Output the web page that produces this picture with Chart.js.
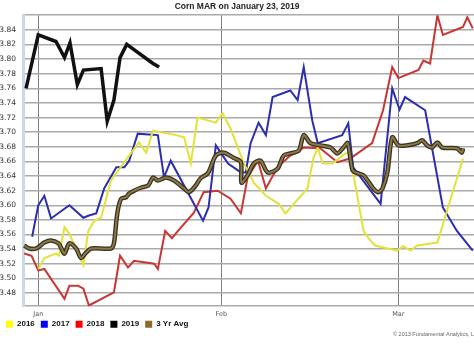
<!DOCTYPE html>
<html>
<head>
<meta charset="utf-8">
<script src="https://cdn.jsdelivr.net/npm/chart.js@4.4.1/dist/chart.umd.min.js"></script>
<style>
  body { margin: 0; background: #fff; }
  canvas { display: block; }
</style>
</head>
<body>
<canvas id="chart1" width="474" height="351"></canvas>
<script>
// x = days from Jan 1 (chart's own spacing), y = price
var monthTicks = [0, 30, 59];
var monthLabels = ["Jan", "Feb", "Mar"];
var priceTicks = [3.48, 3.50, 3.52, 3.54, 3.56, 3.58, 3.60, 3.62, 3.64, 3.66, 3.68, 3.70, 3.72, 3.74, 3.76, 3.78, 3.80, 3.82, 3.84, 3.86];
var seriesNames = ["2016", "2017", "2018", "2019", "3 Yr Avg"];
var legendColors = ["#ffff00", "#0000ff", "#ff0000", "#000000", "#8b6b2b"];

var x2016 = [0, 1.0, 2.9, 3.4, 4.3, 5.1, 7.4, 8.2, 9.2, 10.3, 11.9, 14.9, 16.5, 17.7, 18.8, 20.1, 22.6, 23.9, 25.0, 26.1, 29.1, 30.2, 31.5, 33.7, 35.3, 37.3, 39.4, 40.5, 44.1, 45.1, 45.8, 46.6, 48.2, 50.3, 51.1, 51.6, 53.3, 54.1, 55.2, 58.8, 59.8, 61.0, 62.1, 65.4, 67.5, 69.6];
var y2016 = [3.513, 3.528, 3.534, 3.531, 3.570, 3.561, 3.518, 3.565, 3.579, 3.583, 3.634, 3.668, 3.686, 3.672, 3.702, 3.700, 3.696, 3.693, 3.657, 3.720, 3.713, 3.726, 3.705, 3.657, 3.631, 3.613, 3.602, 3.589, 3.623, 3.665, 3.679, 3.657, 3.657, 3.671, 3.672, 3.644, 3.565, 3.555, 3.545, 3.538, 3.544, 3.538, 3.545, 3.549, 3.607, 3.664];

var x2017 = [-1.0, -0.7, 0, 1.0, 2.1, 5.1, 7.4, 8.3, 9.5, 10.8, 12.8, 14.1, 14.9, 16.3, 18.1, 19.6, 20.6, 21.7, 27.0, 27.9, 29.1, 31.1, 33.2, 34.0, 34.8, 36.1, 37.3, 38.4, 41.3, 42.5, 43.5, 44.9, 45.8, 49.8, 50.8, 51.6, 56.1, 58.0, 59.2, 60.1, 63.4, 66.3, 68.6, 71.2];
var y2017 = [3.557, 3.570, 3.600, 3.613, 3.582, 3.600, 3.583, 3.586, 3.589, 3.623, 3.652, 3.652, 3.661, 3.698, 3.697, 3.696, 3.638, 3.661, 3.579, 3.597, 3.682, 3.657, 3.645, 3.645, 3.685, 3.713, 3.696, 3.748, 3.757, 3.744, 3.789, 3.716, 3.685, 3.696, 3.712, 3.652, 3.602, 3.760, 3.731, 3.748, 3.730, 3.597, 3.565, 3.538];

var x2018 = [-2.3, -1.1, 0, 1.0, 4.3, 5.1, 6.5, 7.4, 8.3, 12.4, 13.4, 14.7, 15.7, 19.0, 19.6, 20.8, 21.9, 22.9, 25.5, 27.1, 29.4, 31.5, 33.2, 34.3, 36.0, 37.3, 39.2, 41.3, 43.5, 46.2, 49.0, 51.1, 54.7, 56.5, 58.0, 59.0, 62.3, 63.1, 64.2, 65.4, 66.3, 69.6, 70.3, 71.2];
var y2018 = [3.534, 3.531, 3.511, 3.513, 3.472, 3.490, 3.490, 3.486, 3.463, 3.481, 3.531, 3.515, 3.524, 3.520, 3.513, 3.565, 3.555, 3.565, 3.590, 3.618, 3.620, 3.609, 3.589, 3.638, 3.661, 3.623, 3.652, 3.668, 3.679, 3.678, 3.659, 3.664, 3.685, 3.730, 3.789, 3.774, 3.785, 3.798, 3.794, 3.860, 3.833, 3.844, 3.857, 3.842];

var x2019 = [-2.0, 0, 2.9, 4.3, 5.2, 6.4, 7.4, 10.3, 11.3, 12.4, 13.4, 14.5, 18.8, 19.8];
var y2019 = [3.760, 3.833, 3.824, 3.802, 3.822, 3.765, 3.785, 3.787, 3.715, 3.744, 3.802, 3.820, 3.794, 3.789];

var xAvg = [-2.3, -1.5, -0.3, 1.0, 2.1, 3.3, 3.8, 4.3, 5.1, 6.2, 7.0, 7.8, 8.7, 11.9, 12.4, 12.8, 13.1, 13.6, 14.4, 14.9, 15.7, 16.8, 18.0, 18.8, 19.6, 20.9, 22.2, 23.9, 24.7, 25.8, 26.6, 27.8, 29.1, 30.4, 32.0, 33.2, 33.3, 34.3, 35.3, 36.4, 37.6, 39.2, 40.2, 41.3, 42.7, 43.5, 44.6, 46.2, 47.9, 49.0, 50.0, 50.7, 51.5, 52.3, 53.3, 54.9, 55.7, 56.4, 57.2, 58.0, 59.0, 60.5, 62.1, 62.9, 63.7, 64.5, 65.4, 66.2, 68.6, 69.4, 69.6];
var yAvg = [3.545, 3.541, 3.541, 3.549, 3.552, 3.548, 3.541, 3.534, 3.548, 3.541, 3.528, 3.535, 3.541, 3.541, 3.548, 3.579, 3.596, 3.609, 3.611, 3.616, 3.620, 3.624, 3.627, 3.638, 3.634, 3.638, 3.634, 3.623, 3.618, 3.627, 3.637, 3.644, 3.668, 3.672, 3.665, 3.659, 3.631, 3.641, 3.657, 3.661, 3.645, 3.650, 3.668, 3.671, 3.675, 3.696, 3.685, 3.682, 3.679, 3.671, 3.679, 3.685, 3.648, 3.644, 3.641, 3.623, 3.618, 3.623, 3.645, 3.693, 3.682, 3.682, 3.685, 3.689, 3.682, 3.679, 3.686, 3.679, 3.678, 3.672, 3.678];

function pts(xs, ys) {
  return xs.map(function (x, i) { return { x: x, y: ys[i] }; });
}

function line(label, xs, ys, color, width, order) {
  return {
    label: label,
    data: pts(xs, ys),
    borderColor: color,
    backgroundColor: color,
    borderWidth: width,
    pointRadius: 0,
    tension: 0,
    fill: false,
    order: order,
  };
}

var footNote = {
  id: "footNote",
  afterLayout: function (chart) {
    // pull the legend up close under the month labels
    var lg = chart.legend;
    if (lg) {
      var h = lg.height;
      lg.top = chart.chartArea.bottom + 8;
      lg.bottom = lg.top + h;
    }
  },
  afterDraw: function (chart) {
    var c = chart.ctx;
    c.save();
    c.font = "5.5px 'Liberation Sans'";
    c.fillStyle = "#666";
    c.textBaseline = "middle";
    c.fillText("\u00a9 2013 Fundamental Analytics, LLC", 393, 334);
    c.restore();
  },
};

function drawGraph() {
  var ctx = document.getElementById("chart1").getContext("2d");
  var avgOutline = line("", xAvg, yAvg, "#3a3120", 4.5, 2);
  avgOutline.tension = 0.3;
  var avgInner = line(seriesNames[4], xAvg, yAvg, "#8a7a48", 2, 1);
  avgInner.tension = 0.3;

  var myChart = new Chart(ctx, {
    type: "line",
    data: {
      datasets: [
        line(seriesNames[0], x2016, y2016, "#e2e23a", 2, 3),
        line(seriesNames[1], x2017, y2017, "#2d2db0", 2, 4),
        line(seriesNames[2], x2018, y2018, "#c83535", 2, 5),
        line(seriesNames[3], x2019, y2019, "#111111", 3.5, 0),
        avgInner,
        avgOutline,
      ],
    },
    plugins: [footNote],
    options: {
      responsive: false,
      animation: false,
      layout: { padding: { left: 0, right: 0, top: 0, bottom: 5 } },
      plugins: {
        title: {
          display: true,
          text: "Corn MAR on January 23, 2019",
          color: "#222",
          font: { family: "'Liberation Sans'", size: 8.5, weight: "bold" },
          padding: { top: 2, bottom: 3 },
        },
        legend: {
          position: "bottom",
          align: "start",
          labels: {
            boxWidth: 7,
            boxHeight: 7,
            padding: 6,
            color: "#111",
            font: { family: "'Liberation Sans'", size: 8, weight: "bold" },
            filter: function (item) { return item.datasetIndex < 5; },
            sort: function (a, b) { return a.datasetIndex - b.datasetIndex; },
            generateLabels: function (chart) {
              var items = Chart.defaults.plugins.legend.labels.generateLabels(chart);
              items.forEach(function (it) {
                if (it.datasetIndex < 5) {
                  it.fillStyle = legendColors[it.datasetIndex];
                  it.strokeStyle = legendColors[it.datasetIndex];
                  it.lineWidth = 0;
                }
              });
              return items;
            },
          },
        },
        tooltip: { enabled: false },
      },
      scales: {
        x: {
          type: "linear",
          min: -2.5,
          max: 71.4,
          afterBuildTicks: function (axis) {
            axis.ticks = monthTicks.map(function (v) { return { value: v }; });
          },
          ticks: {
            callback: function (v) { return monthLabels[monthTicks.indexOf(v)]; },
            color: "#555",
            font: { family: "'DejaVu Sans'", size: 6.5 },
            padding: 4,
            maxRotation: 0,
            autoSkip: false,
          },
          grid: { color: "#808080", lineWidth: 1, drawTicks: false },
          border: { color: "#aaaaaa", width: 1.5 },
        },
        y: {
          min: 3.462,
          max: 3.86,
          afterBuildTicks: function (axis) {
            axis.ticks = priceTicks.map(function (v) { return { value: v }; });
          },
          afterFit: function (axis) { axis.width = 23; },
          ticks: {
            callback: function (v) { return v >= 3.859 ? "" : v.toFixed(2); },
            color: "#333",
            font: { family: "'DejaVu Sans'", size: 7.5 },
            padding: 7,
            autoSkip: false,
          },
          grid: { color: "#aaaaaa", lineWidth: 1.5, drawTicks: false },
          border: { color: "#c8d8e8", width: 3 },
        },
      },
    },
  });
}
window.onload = drawGraph;
</script>
</body>
</html>
